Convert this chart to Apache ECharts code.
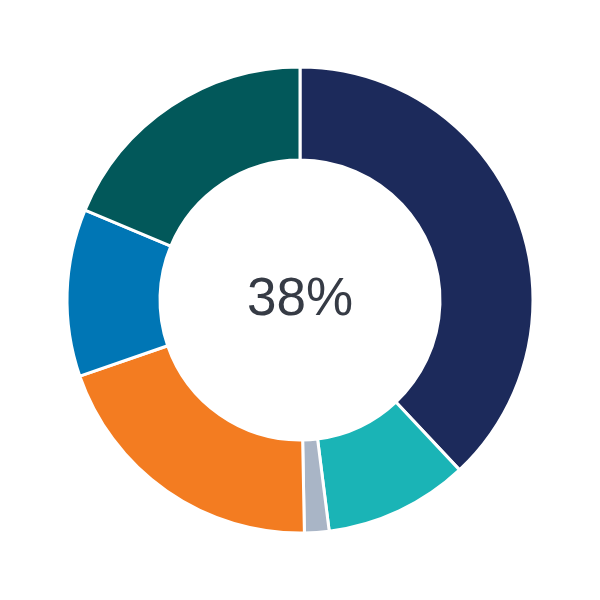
<!DOCTYPE html>
<html>
<head>
<meta charset="utf-8">
<script src="https://cdn.jsdelivr.net/npm/echarts@6/dist/echarts.min.js"></script>
<style>
  html, body { margin: 0; padding: 0; background: #fff; }
  #chart { width: 600px; height: 600px; }
</style>
</head>
<body>
<div id="chart"></div>
<script>
// slice shares, clockwise from 12 o'clock
var names = ['A', 'B', 'C', 'D', 'E', 'F'];
var values = [38, 10, 1.7, 20, 11.6, 18.7];
var colors = ['#1c2a5b', '#1ab4b6', '#a9b5c6', '#f37c21', '#0076b5', '#02585a'];
var centerLabel = '38%';

var chart = echarts.init(document.getElementById('chart'));

var data = names.map(function (n, i) {
  return { name: n, value: values[i], itemStyle: { color: colors[i] } };
});

var option = {
  animation: false,
  title: {
    text: centerLabel,
    left: 'center',
    top: 'middle',
    textStyle: {
      fontFamily: 'Liberation Sans',
      fontSize: 53,
      fontWeight: 'normal',
      color: '#363b45'
    }
  },
  series: [
    {
      type: 'pie',
      center: [300, 300],
      radius: [140, 233],
      startAngle: 90,
      clockwise: true,
      avoidLabelOverlap: false,
      label: { show: false },
      labelLine: { show: false },
      itemStyle: {
        borderColor: '#fff',
        borderWidth: 3
      },
      data: data
    }
  ]
};

chart.setOption(option);
</script>
</body>
</html>
